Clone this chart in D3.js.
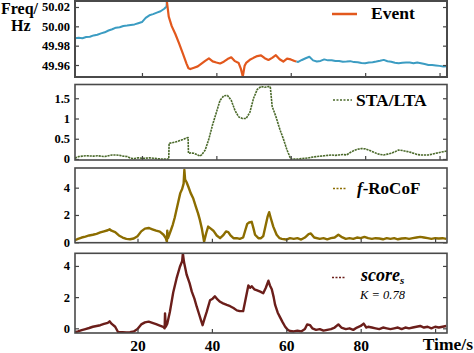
<!DOCTYPE html>
<html>
<head>
<meta charset="utf-8">
<script src="https://cdn.jsdelivr.net/npm/d3@7"></script>
<style>
body { margin: 0; background: #fff; }
svg text { font-family: "Liberation Serif", "DejaVu Serif", "Times New Roman", Times, serif; }
</style>
</head>
<body>
<svg class="chart" width="474" height="353"></svg>
<script>
// [time s, value]
const freq = [
  [2,49.9876],[3,49.9881],[4,49.9877],[5,49.9889],[6,49.9892],[7,49.9906],[8,49.9913],[9,49.9927],
  [10,49.9938],[11,49.9957],[12,49.9970],[13,49.9986],[14,49.9990],[15,50.0004],[16,50.0008],[17,50.0014],
  [18,50.0020],[19,50.0032],[20,50.0044],[21,50.0088],[22,50.0114],[23,50.0126],[24,50.0142],[25,50.0156],
  [26,50.0182],[26.6,50.0205],[26.7,50.0258],[27.2,50.0100],[28,50.0002],[29,49.9918],[30,49.9822],
  [31,49.9718],[32,49.9612],[32.5,49.9566],[33,49.9558],[34,49.9572],[35,49.9586],[36,49.9614],[37,49.9642],
  [38,49.9668],[39,49.9638],[40,49.9626],[41,49.9616],[42,49.9634],[43,49.9662],[44,49.9680],[45,49.9640],
  [46,49.9620],[46.6,49.9560],[47.1,49.9480],[47.6,49.9592],[48,49.9622],[49,49.9654],[50,49.9674],
  [51,49.9692],[52,49.9700],[53,49.9670],[54,49.9652],[55,49.9674],[56,49.9702],[57,49.9660],[58,49.9636],
  [59,49.9666],[60,49.9658],[61,49.9642],[61.5,49.9636],[62,49.9632],[63,49.9652],[64,49.9670],[65,49.9685],
  [66,49.9648],[67,49.9636],[68,49.9642],[69,49.9658],[70,49.9648],[71,49.9650],[72,49.9642],[73,49.9641],
  [74,49.9634],[75,49.9636],[76,49.9640],[77,49.9630],[78,49.9629],[79,49.9621],[80,49.9619],[81,49.9626],
  [82,49.9629],[83,49.9636],[84,49.9644],[85,49.9653],[86,49.9639],[87,49.9634],[88,49.9624],[89,49.9619],
  [90,49.9623],[91,49.9625],[92,49.9625],[93,49.9619],[94,49.9627],[95,49.9619],[96,49.9611],[97,49.9601],
  [98,49.9599],[99,49.9595],[100,49.9591],[101,49.9584],[102,49.9588]
];
const eventStart = 26.7, eventEnd = 61.5;

const staLta = [
  [2,0.02],[3,0.06],[4,0.07],[5,0.08],[6,0.075],[7,0.07],[8,0.08],[9,0.07],[10,0.06],[11,0.08],[12,0.1],
  [13,0.1],[14,0.09],[15,0.07],[16,0.06],[17,0.02],[18,0.01],[19,0.03],[20,0.02],[21,0.02],[22,0.03],
  [23,0.02],[24,0.01],[25,0],[26,0],[27.2,0],[27.3,0.39],[28,0.4],[29,0.42],[30,0.45],[31,0.48],[32,0.52],
  [32.4,0.53],[32.5,0.14],[33,0.15],[34,0.14],[35,0.1],[35.6,0.07],[36,0.1],[37,0.22],[38,0.5],[39,0.85],
  [40,1.15],[41,1.45],[42,1.56],[43,1.57],[44,1.45],[45,1.2],[46,1.04],[47,1.0],[48,1.0],[49,1.15],[50,1.5],
  [51,1.72],[52,1.79],[53,1.77],[54,1.79],[54.5,1.78],[55,1.3],[56,1.05],[57,0.75],[58,0.5],[59,0.22],
  [60,0],[61,0],[62,0],[63,0.01],[64,0.02],[65,0.03],[66,0.05],[67,0.06],[68,0.07],[69,0.08],[70,0.09],
  [71,0.1],[72,0.09],[73,0.1],[74,0.11],[75,0.1],[76,0.16],[77,0.21],[78,0.24],[79,0.26],[80,0.25],
  [81,0.22],[82,0.18],[83,0.14],[84,0.11],[85,0.1],[86,0.12],[87,0.14],[88,0.18],[89,0.22],[90,0.21],
  [91,0.19],[92,0.17],[93,0.14],[94,0.11],[95,0.1],[96,0.1],[97,0.1],[98,0.12],[99,0.14],[100,0.16],
  [101,0.18],[102,0.2]
];

const rocof = [
  [3.2,0.15],[4,0.25],[5,0.35],[6,0.42],[7,0.5],[8,0.55],[9,0.62],[10,0.72],[11,0.8],[12,0.88],[12.5,0.95],
  [13,0.85],[14,0.75],[15,0.5],[16,0.35],[17,0.25],[18,0.22],[19,0.28],[20,0.45],[21,0.8],[22,1.0],
  [23,1.05],[24,0.95],[25,0.85],[26,0.78],[27,0.55],[27.6,0.3],[27.9,0.04],[28,0.85],[28.2,0.3],[29,0.9],
  [29.5,1.3],[30,1.8],[30.5,2.4],[31,3.0],[31.5,3.6],[32,3.9],[32.4,4.3],[32.6,5.3],[32.8,4.6],[33.2,4.4],
  [33.7,4.05],[34.3,3.6],[35,3.2],[35.7,2.6],[36.3,2.1],[36.8,1.6],[37.3,1.0],[37.9,0.05],[38.5,0.7],
  [39,1.15],[39.7,1.0],[40.4,0.85],[41.3,0.5],[42.2,0.3],[43,0.5],[43.8,0.8],[44.4,0.75],[45,0.5],
  [45.8,0.3],[46.7,0.3],[47.5,0.25],[48.4,0.35],[49,0.9],[49.5,1.35],[50,1.45],[50.7,1.5],[51.2,1.0],
  [51.6,0.55],[52.5,0.3],[53.2,0.3],[53.8,0.45],[54.5,1.3],[55,1.9],[55.4,2.2],[55.8,1.8],[56.5,1.15],
  [57.4,0.55],[58.2,0.3],[58.8,0.25],[60,0.2],[61,0.3],[62,0.25],[63,0.3],[64,0.2],[65,0.35],[66,0.6],
  [66.6,0.65],[67.5,0.35],[69,0.25],[70,0.3],[71,0.22],[72,0.3],[73,0.35],[74,0.55],[74.8,0.4],[76,0.25],
  [77,0.3],[78,0.25],[79,0.35],[80,0.3],[81,0.4],[82,0.3],[83,0.25],[84,0.3],[85,0.28],[86,0.22],[87,0.3],
  [88,0.25],[89,0.3],[90,0.22],[91,0.28],[92,0.3],[93,0.25],[94,0.3],[95,0.35],[96,0.4],[97,0.35],
  [98,0.3],[99,0.25],[100,0.3],[101,0.28],[102,0.3],[103,0.25]
];

const scores = [
  [3.2,-0.25],[4,-0.2],[5,-0.12],[6,-0.05],[7,0.02],[8,0.1],[9,0.15],[10,0.2],[11,0.28],[12,0.35],
  [12.5,0.45],[13,0.3],[14,0.1],[14.8,-0.25],[16,-0.25],[17,-0.26],[18,-0.25],[19,-0.2],[20,-0.05],
  [21,0.25],[22,0.38],[23,0.43],[24,0.35],[25,0.27],[26,0.18],[26.9,0.1],[27.3,0],[27.4,0.96],[27.6,0.1],
  [28,0.3],[28.7,1.05],[29.6,2.3],[30.5,3.2],[31.4,3.95],[32,4.3],[32.2,4.8],[32.5,4.25],[33.2,3.45],
  [34,2.9],[34.6,2.35],[35.3,1.9],[35.9,1.4],[36.5,0.95],[37.1,0.5],[37.5,0.2],[38,0.6],[38.6,1.05],
  [39.5,1.8],[40.2,1.9],[40.8,2.05],[41.5,1.85],[42.2,1.7],[43,1.6],[44,1.5],[44.9,1.42],[45.8,1.3],
  [46.7,1.15],[47.5,1.1],[48.4,1.1],[49,1.8],[49.8,2.75],[50.3,2.6],[50.7,2.7],[51.4,2.5],[52,2.45],
  [53,2.35],[53.8,2.25],[54.5,2.6],[55.2,3.05],[55.6,2.75],[56.1,2.5],[56.6,2.0],[57,1.5],[57.7,1.0],
  [58.3,0.72],[59,0.4],[59.7,0.1],[60.4,-0.1],[61,-0.17],[62,-0.2],[63,-0.15],[64,-0.2],[65,-0.05],
  [65.6,0.25],[66.4,0.2],[67,0],[68,-0.1],[69,-0.05],[70,-0.15],[71,-0.1],[72,-0.05],[73,0.05],[74,0.25],
  [74.8,0.05],[76,-0.05],[77,0],[78,-0.1],[79,0.05],[80,0.15],[80.8,0.3],[81.5,0.05],[82,0.1],[83,0.05],
  [84,0],[85,-0.05],[86,0.05],[87,0],[88,-0.05],[89,0],[90,0.05],[91,-0.05],[92,0.05],[93,0],[94,0.05],
  [95,0.1],[96,0.15],[97,0.05],[98,0.1],[99,0],[100,0.1],[101,0.05],[102,0.1],[103,0.15]
];

const freqTicks = [49.96, 49.98, 50.00, 50.02];
const staTicks = [0, 0.5, 1, 1.5];
const rocofTicks = [0, 2, 4];
const scoreTicks = [0, 2, 4];
const timeTicks = [20, 40, 60, 80, 100];
const timeLabels = [20, 40, 60, 80];

const svg = d3.select("svg.chart");
const left = 75, right = 447;
const font = '"Liberation Serif", "DejaVu Serif", "Times New Roman", Times, serif';

const panels = [
  {top: 1, bottom: 77, xDom: [2, 102], yDom: [49.9476, 50.0262], ticks: freqTicks, fmt: d3.format(".2f")},
  {top: 84.5, bottom: 160, xDom: [2, 102], yDom: [-0.025, 1.84], ticks: staTicks, fmt: d => d},
  {top: 168, bottom: 242.7, xDom: [3.2, 103.2], yDom: [-0.03, 5.44], ticks: rocofTicks, fmt: d => d},
  {top: 253.3, bottom: 333, xDom: [3.2, 103.2], yDom: [-0.3, 4.81], ticks: scoreTicks, fmt: d => d}
];

panels.forEach((p, i) => {
  p.x = d3.scaleLinear().domain(p.xDom).range([left, right]);
  p.y = d3.scaleLinear().domain(p.yDom).range([p.bottom, p.top]);
  p.g = svg.append("g");
  p.g.append("clipPath").attr("id", "clip" + i)
    .append("rect")
    .attr("x", left).attr("y", p.top)
    .attr("width", right - left).attr("height", p.bottom - p.top);
});

function plotLine(p, i, data, color, width, dash) {
  let line = d3.line()
    .x(d => p.x(d[0]))
    .y(d => p.y(d[1]));
  p.g.append("path")
    .datum(data)
    .attr("clip-path", "url(#clip" + i + ")")
    .attr("d", line)
    .style("fill", "none")
    .style("stroke", color)
    .style("stroke-width", width)
    .style("stroke-dasharray", dash || null)
    .style("stroke-linejoin", "round");
}

// frequency: blue before/after the event, orange during it
plotLine(panels[0], 0, freq.filter(d => d[0] <= eventStart), "#3b9cc2", 2);
plotLine(panels[0], 0, freq.filter(d => d[0] >= eventEnd), "#3b9cc2", 2);
plotLine(panels[0], 0, freq.filter(d => d[0] >= eventStart && d[0] <= eventEnd), "#e2581d", 2.2);
plotLine(panels[1], 1, staLta, "#4b6a2b", 1.6, "2.2,0.8");
plotLine(panels[2], 2, rocof, "#8c6d00", 2.4);
plotLine(panels[3], 3, scores, "#6b1e1a", 2.4);

panels.forEach((p, i) => {
  let yl = p.g.append("g")
    .attr("transform", "translate(" + left + ",0)")
    .call(d3.axisLeft(p.y).tickValues(p.ticks).tickFormat(p.fmt).tickSizeInner(-4).tickSizeOuter(0).tickPadding(5));
  let yr = p.g.append("g")
    .attr("transform", "translate(" + right + ",0)")
    .call(d3.axisRight(p.y).tickValues(p.ticks).tickFormat("").tickSizeInner(-4).tickSizeOuter(0));
  let xb = p.g.append("g")
    .attr("transform", "translate(0," + p.bottom + ")")
    .call(d3.axisBottom(p.x).tickValues(timeTicks)
      .tickFormat(d => (i === 3 && timeLabels.includes(d)) ? d : "")
      .tickSizeInner(-4).tickSizeOuter(0).tickPadding(7));
  [yl, yr, xb].forEach(a => {
    a.attr("font-family", null);
    a.select(".domain").remove();
    a.selectAll("line").style("stroke", "#444").style("stroke-width", 1.2);
    a.selectAll("text").filter(function() { return this.textContent === ""; }).remove();
    a.selectAll("text")
      .style("font-family", font)
      .style("font-weight", "bold")
      .style("fill", "#000");
  });
  yl.selectAll("text").style("font-size", "12.5px");
  xb.selectAll("text").style("font-size", "15.5px");

  p.g.append("rect")
    .attr("x", left).attr("y", p.top)
    .attr("width", right - left).attr("height", p.bottom - p.top)
    .style("fill", "none")
    .style("stroke", "#4a4a4a")
    .style("stroke-width", i === 0 ? 2 : 1.6);
});

// y label
svg.append("text").attr("x", 1).attr("y", 14)
  .style("font-size", "16px").style("font-weight", "bold").text("Freq/");
svg.append("text").attr("x", 11).attr("y", 31)
  .style("font-size", "16px").style("font-weight", "bold").text("Hz");

svg.append("text").attr("x", 473).attr("y", 350)
  .style("text-anchor", "end")
  .style("font-size", "17.5px").style("font-weight", "bold").text("Time/s");

// legends
function legendLine(x1, x2, y, color, dash, width) {
  svg.append("line")
    .attr("x1", x1).attr("x2", x2).attr("y1", y).attr("y2", y)
    .style("stroke", color)
    .style("stroke-width", width)
    .style("stroke-dasharray", dash);
}
legendLine(332, 357, 14, "#e2581d", null, 2.5);
svg.append("text").attr("x", 371).attr("y", 18.5)
  .style("font-size", "17.5px").style("font-weight", "bold").text("Event");

legendLine(333, 352, 100, "#4b6a2b", "2,1.5", 1.6);
svg.append("text").attr("x", 356).attr("y", 105.5)
  .style("font-size", "17.5px").style("font-weight", "bold").text("STA/LTA");

legendLine(333, 346, 188.5, "#8c6d00", "2,1.5", 1.6);
let rl = svg.append("text").attr("x", 357).attr("y", 193.5)
  .style("font-size", "17px").style("font-weight", "bold");
rl.append("tspan").style("font-style", "italic").text("f");
rl.append("tspan").text("-RoCoF");

legendLine(332, 345, 277.5, "#6b1e1a", "2,1.5", 1.6);
let sl = svg.append("text").attr("x", 361).attr("y", 281)
  .style("font-size", "18px").style("font-weight", "bold").style("font-style", "italic");
sl.append("tspan").text("score");
sl.append("tspan").attr("dy", 3).style("font-size", "11px").text("s");
svg.append("text").attr("x", 360).attr("y", 298.5)
  .style("font-size", "12.5px").style("font-style", "italic").text("K = 0.78");
</script>
</body>
</html>
